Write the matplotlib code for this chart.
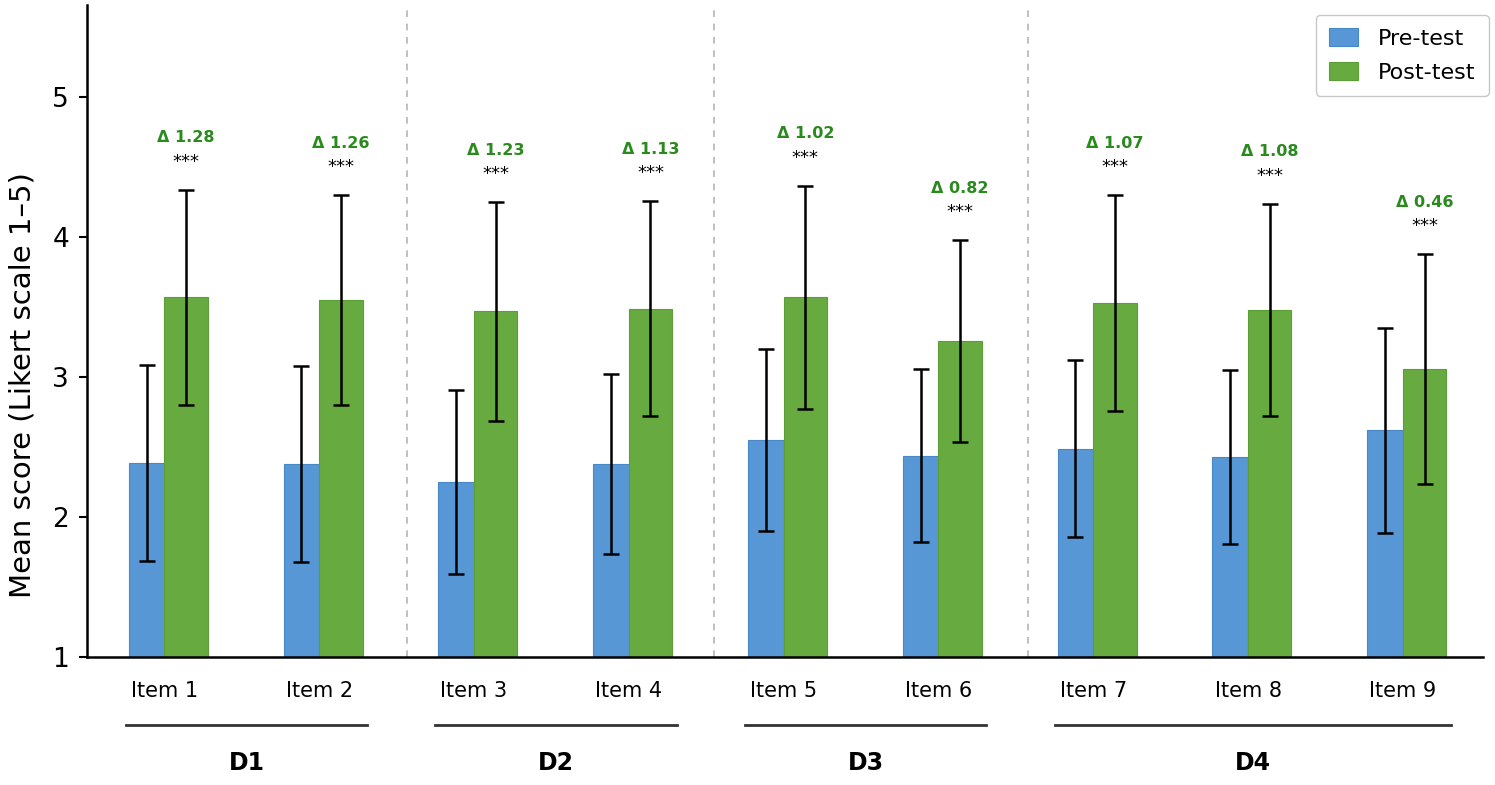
import numpy as np
import matplotlib
matplotlib.use("Agg")
import matplotlib.pyplot as plt

items = ["Item 1", "Item 2", "Item 3", "Item 4", "Item 5", "Item 6", "Item 7", "Item 8", "Item 9"]
pre = [2.39, 2.38, 2.25, 2.38, 2.55, 2.44, 2.49, 2.43, 2.62]
pre_sd = [0.70, 0.70, 0.66, 0.64, 0.65, 0.62, 0.63, 0.62, 0.73]
post = [3.57, 3.55, 3.47, 3.49, 3.57, 3.26, 3.53, 3.48, 3.06]
post_sd = [0.77, 0.75, 0.78, 0.77, 0.80, 0.72, 0.77, 0.76, 0.82]
delta = [1.28, 1.26, 1.23, 1.13, 1.02, 0.82, 1.07, 1.08, 0.46]
sig = ["***"] * 9
groups = ["D1", "D2", "D3", "D4"]
group_items = [(0, 1), (2, 3), (4, 5), (6, 8)]

pre_color = "#5797d5"
post_color = "#67ab40"

fig = plt.figure(figsize=(14.95, 7.85), dpi=100)
ax = fig.add_axes([0.0582, 0.163, 0.934, 0.8306])

x = np.arange(len(items))
w_pre = 0.23
w_post = 0.28

ax.bar(x - w_pre / 2, pre, w_pre, color=pre_color, edgecolor="#4a87c8",
       linewidth=0.8, label="Pre-test", zorder=2)
ax.bar(x + w_post / 2, post, w_post, color=post_color, edgecolor="#5c9e36",
       linewidth=0.8, label="Post-test", zorder=2)
ax.errorbar(x - w_pre / 2, pre, yerr=pre_sd, fmt="none", ecolor="black",
            elinewidth=1.8, capsize=6, capthick=1.8, zorder=3)
ax.errorbar(x + w_post / 2, post, yerr=post_sd, fmt="none", ecolor="black",
            elinewidth=1.8, capsize=6, capthick=1.8, zorder=3)

# significance + delta labels over post bars
for i in range(len(items)):
    top = post[i] + post_sd[i]
    ax.text(x[i] + w_post / 2, top + 0.2, sig[i], ha="center", va="center",
            fontsize=13)
    ax.text(x[i] + w_post / 2, top + 0.37, "Δ %.2f" % delta[i], ha="center",
            va="center", fontsize=11.5, fontweight="bold", color="#2a8a1e")

# dividers between dimensions
for xd in [1.57, 3.55, 5.58]:
    ax.axvline(xd, color="#b5b5b5", linestyle=(0, (4, 4)), linewidth=1.2, zorder=1)

ax.set_xlim(-0.5, 8.52)
ax.set_ylim(1, 5.66)
ax.set_yticks([1, 2, 3, 4, 5])
ax.set_xticks(x)
ax.set_xticklabels(items, fontsize=15)
ax.tick_params(axis="x", length=0, pad=17.5)
ax.tick_params(axis="y", labelsize=19, length=6, width=1.5, pad=7)
ax.set_ylabel("Mean score (Likert scale 1\u20135)", fontsize=21)
ax.yaxis.set_label_coords(-0.036, 0.417)

for s in ["top", "right"]:
    ax.spines[s].set_visible(False)
ax.spines["left"].set_linewidth(1.8)
ax.spines["bottom"].set_linewidth(1.8)

# dimension brackets below the axis
trans = ax.get_xaxis_transform()
for name, (a, b) in zip(groups, group_items):
    ax.plot([a - 0.25, b + 0.31], [-0.104, -0.104], color="#333333", lw=2,
            transform=trans, clip_on=False)
    ax.text((a - 0.25 + b + 0.31) / 2, -0.163, name, transform=trans,
            ha="center", va="center", fontsize=17, fontweight="bold")

leg = ax.legend(loc="upper right", bbox_to_anchor=(1.004, 0.985), borderaxespad=0,
                fontsize=16, frameon=True, fancybox=True, framealpha=1,
                edgecolor="#c8c8c8", handlelength=1.3, handleheight=0.85,
                borderpad=0.6, labelspacing=0.6, handletextpad=0.9)

fig.savefig("out.png", dpi=100)
